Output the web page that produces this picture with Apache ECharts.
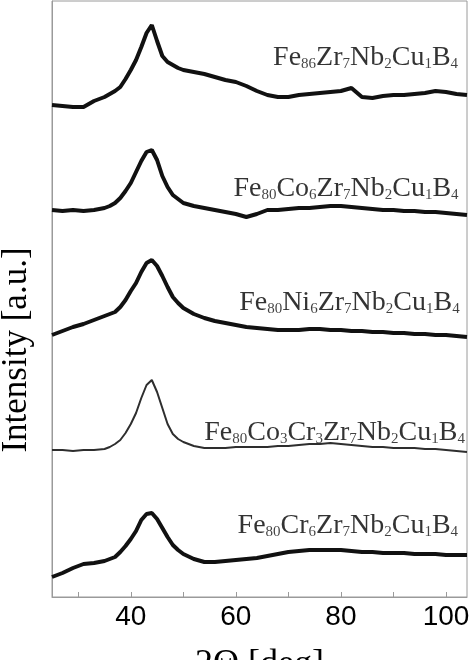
<!DOCTYPE html>
<html>
<head>
<meta charset="utf-8">
<script src="https://cdn.jsdelivr.net/npm/echarts@6/dist/echarts.min.js"></script>
<style>
html,body{margin:0;padding:0;background:#fff;}
#c{width:474px;height:660px;}
</style>
</head>
<body>
<div id="c"></div>
<script>
// 2-theta positions (deg)
const twoTheta = [25,27,29,31,33,35,36,37,38,39,40,41,42,43,44,45,46,47,48,49,50,52,54,56,58,60,62,64,66,68,70,72,74,76,78,80,82,84,86,88,90,92,94,96,98,100,102,104];

// Intensity (a.u., stacked offsets)
const fe86 = [492,491,490,490,496,500,503,506,510,518,527,537,550,564,572,556,541,535,532,529,527,525,523,520,517,515,511,506,502,500,500,502,503,504,505,506,509,500,499,501,502,502,503,504,506,505,503,502];
const fe80co6 = [387,386,387,386,387,389,391,394,399,406,414,425,436,445,447,437,421,410,402,398,394,391,389,387,385,383,380,383,387,387,388,389,389,390,391,391,390,389,388,387,387,386,386,385,385,384,383,382];
const fe80ni6 = [262,266,270,273,277,281,283,285,290,297,306,314,325,334,337,331,321,310,300,294,289,283,279,276,274,272,270,269,268,267,267,267,268,268,267,267,266,266,265,265,264,264,263,263,262,262,261,260];
const fe80co3cr3 = [147,147,146,147,147,148,150,153,157,164,173,184,199,212,217,205,189,173,163,158,155,151,149,149,149,150,150,150,150,151,151,152,153,153,154,153,152,151,150,150,149,149,149,148,148,147,146,145];
const fe80cr6 = [20,24,29,33,34,36,38,40,45,51,58,66,77,83,84,78,69,60,52,47,43,38,35,35,36,37,38,39,41,43,45,46,47,47,47,47,46,45,45,44,44,44,43,43,43,42,42,42];

// Sample labels: [element, subscript] pairs
const labelParts = [
  [["Fe","86"],["Zr","7"],["Nb","2"],["Cu","1"],["B","4"]],
  [["Fe","80"],["Co","6"],["Zr","7"],["Nb","2"],["Cu","1"],["B","4"]],
  [["Fe","80"],["Ni","6"],["Zr","7"],["Nb","2"],["Cu","1"],["B","4"]],
  [["Fe","80"],["Co","3"],["Cr","3"],["Zr","7"],["Nb","2"],["Cu","1"],["B","4"]],
  [["Fe","80"],["Cr","6"],["Zr","7"],["Nb","2"],["Cu","1"],["B","4"]]
];
const labelX = [102.3, 102.4, 102.6, 103.6, 102.3];
const labelY = [541, 410, 296, 166, 73];

const xTicks = [30,40,50,60,70,80,90,100];
const xTickLabels = [40,60,80,100];

const seriesList = [fe86, fe80co6, fe80ni6, fe80co3cr3, fe80cr6];
const serif = "'Liberation Serif','Times New Roman',serif";

const chart = echarts.init(document.getElementById('c'), null, {renderer:'canvas'});

const lineSeries = seriesList.map((vals, i) => ({
  type: 'line',
  data: twoTheta.map((x, k) => [x, vals[k]]),
  symbol: 'none',
  lineStyle: { color: i === 3 ? '#2e2e2e' : '#111', width: i === 3 ? 2 : 4 },
  silent: true,
  z: 2
}));

const labelSeries = {
  type: 'scatter',
  symbolSize: 0,
  data: labelX.map((x, i) => [x, labelY[i]]),
  label: {
    show: true,
    position: 'left',
    distance: 0,
    formatter: p => labelParts[p.dataIndex].map(([e, s]) => `{m|${e}}{s|${s}}`).join(''),
    rich: {
      m: { fontFamily: serif, fontSize: 28, color: '#000', lineHeight: 32, verticalAlign: 'bottom' },
      s: { fontFamily: serif, fontSize: 15, color: '#111', lineHeight: 16, verticalAlign: 'bottom' }
    }
  },
  z: 3
};

chart.setOption({
  animation: false,
  grid: { left: 52, right: 7, top: 1, bottom: 63, show: true, borderColor: '#9a9a9a', borderWidth: 1, outerBoundsMode: 'none', containLabel: false },
  xAxis: {
    type: 'value', min: 25, max: 104,
    axisLine: { show: true, lineStyle: { color: '#9a9a9a', width: 1 } },
    axisTick: { show: true, inside: true, length: 5, customValues: xTicks, lineStyle: { color: '#9a9a9a' } },
    axisLabel: { customValues: xTickLabels, fontFamily: "'Liberation Sans',Arial,sans-serif", fontSize: 28, color: '#000', margin: 6 },
    splitLine: { show: false },
    name: '2Θ [deg]', nameLocation: 'middle', nameGap: 50,
    nameTextStyle: { fontFamily: serif, fontSize: 36, color: '#000', verticalAlign: 'top' }
  },
  yAxis: {
    type: 'value', min: 0, max: 596,
    axisLine: { show: true, lineStyle: { color: '#9a9a9a' } },
    axisTick: { show: false }, axisLabel: { show: false }, splitLine: { show: false }
  },
  graphic: [{
    type: 'text', x: 17, y: 350, rotation: Math.PI / 2,
    style: { text: 'Intensity [a.u.]', font: "35px 'Liberation Serif','Times New Roman',serif", fill: '#000', align: 'center', verticalAlign: 'middle' }
  }],
  series: lineSeries.concat([labelSeries])
});
</script>
</body>
</html>
